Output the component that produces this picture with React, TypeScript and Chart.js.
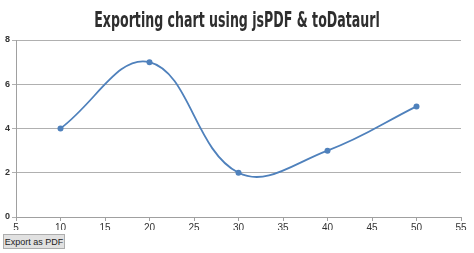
import React, { useEffect, useRef } from "react";
import { Chart, registerables } from "chart.js";

Chart.register(...registerables);

const xValues = [10, 20, 30, 40, 50];
const yValues = [4, 7, 2, 3, 5];
const titleText = "Exporting chart using jsPDF & toDataurl";
const buttonText = "Export as PDF";

const condensedTitle = {
  id: "condensedTitle",
  afterDraw(chart: any) {
    const ctx = chart.ctx;
    ctx.save();
    ctx.font = "bold 20px 'DejaVu Sans Condensed', sans-serif";
    ctx.fillStyle = "#2E2E2E";
    ctx.textAlign = "center";
    ctx.textBaseline = "middle";
    ctx.translate(chart.width / 2, 22);
    ctx.scale(0.7, 1.05);
    ctx.fillText(titleText, 0, 0);
    ctx.restore();
  },
};

export default function App() {
  const ref = useRef<HTMLCanvasElement | null>(null);

  useEffect(() => {
    document.body.style.margin = "0";
    const canvas = ref.current;
    if (!canvas) return;
    const chart = new Chart(canvas, {
      type: "line",
      data: {
        datasets: [
          {
            data: xValues.map((x, i) => ({ x, y: yValues[i] })),
            borderColor: "#4F81BC",
            backgroundColor: "#4F81BC",
            borderWidth: 1.8,
            pointRadius: 3,
            pointBorderWidth: 0,
            tension: 0.4,
            fill: false,
          },
        ],
      },
      options: {
        responsive: false,
        animation: false,
        layout: { padding: { left: 0, right: 13, top: 40, bottom: 0 } },
        plugins: {
          legend: { display: false },
          tooltip: { enabled: false },
          title: { display: false },
        },
        scales: {
          x: {
            type: "linear",
            min: 5,
            max: 55,
            ticks: {
              stepSize: 5,
              color: "#333333",
              font: { family: "'Liberation Sans'", size: 10 },
              padding: 1,
            },
            grid: {
              drawOnChartArea: false,
              drawTicks: true,
              tickLength: 4,
              color: "#A0A0A0",
            },
            border: { color: "#A0A0A0", width: 1 },
            afterFit: (s: any) => {
              s.height = 13;
            },
          },
          y: {
            min: 0,
            max: 8,
            ticks: {
              stepSize: 2,
              color: "#333333",
              font: { family: "'Liberation Sans'", size: 9, weight: "bold" },
              padding: 2,
            },
            grid: {
              color: "#B0B0B0",
              drawTicks: true,
              tickLength: 4,
            },
            border: { color: "#A0A0A0", width: 1 },
            afterFit: (s: any) => {
              s.width = 16;
            },
          },
        },
      },
      plugins: [condensedTitle],
    });
    return () => chart.destroy();
  }, []);

  return (
    <div style={{ position: "relative", width: 474, height: 253 }}>
      <canvas ref={ref} width={474} height={230} style={{ display: "block" }} />
      <button
        style={{
          position: "absolute",
          left: 3,
          top: 234,
          width: 62,
          height: 15,
          padding: 0,
          fontFamily: "'Liberation Sans', sans-serif",
          fontSize: 9,
          color: "#222",
          background: "#E1E1E1",
          border: "1px solid #ADADAD",
          borderRadius: 0,
        }}
      >
        {buttonText}
      </button>
    </div>
  );
}
